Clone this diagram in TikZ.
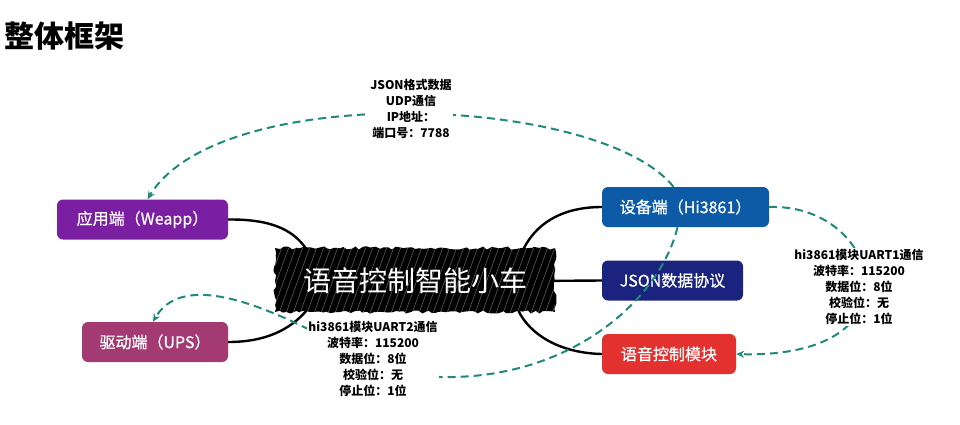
\documentclass[tikz,border=0pt]{standalone}
\usepackage{fontspec}
\setmainfont{Noto Sans CJK SC}
\newfontface\medface[FakeBold=0.7]{Noto Sans CJK SC}
\usetikzlibrary{arrows.meta,decorations.pathmorphing}
\definecolor{teal1}{HTML}{1F8A78}
\definecolor{cpurple}{HTML}{7B1FA2}
\definecolor{cups}{HTML}{A33A72}
\definecolor{cblue}{HTML}{0D5AA7}
\definecolor{cnavy}{HTML}{1A237E}
\definecolor{cred}{HTML}{E2312F}
\tikzset{
  box/.style={rounded corners=6pt, minimum height=40pt, inner sep=0pt, text=white, font=\medface\fontsize{16}{16}\selectfont},
  link/.style={line width=2.4pt, draw=black},
  dlink/.style={line width=2pt, draw=teal1, dash pattern=on 8pt off 5pt},
  tipa/.style={-{Stealth[length=8pt,width=7pt]}},
  note/.style={align=center, font=\bfseries\fontsize{12}{16}\selectfont, fill=white, inner sep=1pt},
}
\begin{document}
\begin{tikzpicture}[x=1pt,y=-1pt]
\fill[white] (0,0) rectangle (960,424);
\useasboundingbox (0,0) rectangle (960,424);

% boxes
\node[box, fill=cpurple, minimum width=171pt] (wea) at (142.5,219.5) {应用端（Weapp）};
\node[box, fill=cups, minimum width=146pt] (ups) at (155,342) {驱动端（UPS）};
\node[box, fill=cblue, minimum width=167pt] (hi) at (685.5,207) {设备端（Hi3861）};
\node[box, fill=cnavy, minimum width=141pt] (json) at (672.5,280.5) {JSON数据协议};
\node[box, fill=cred, minimum width=134pt] (red) at (669,354) {语音控制模块};

% anchor points on the central box
\coordinate (cA) at (307,250);
\coordinate (cB) at (523,250);
\coordinate (cC) at (307,310);
\coordinate (cD) at (518,310);

% solid connectors
\draw[link] (wea.east) .. controls (275,219) and (295,232) .. (cA);
\draw[link] (hi.west) .. controls (560,207) and (535,225) .. (cB);
\draw[link] (ups.east) .. controls (265,342) and (290,330) .. (cC);
\draw[link] (cD) .. controls (530,335) and (560,353) .. (red.west);
\draw[link] (530,281) -- (json.west);

% central scribbled box
\fill[black, decorate, decoration={random steps, segment length=4pt, amplitude=1.6pt}] (275,248) rectangle (555,312);
\begin{scope}
\clip (275,248) rectangle (555,312);
\foreach \x in {236,243,...,560} \draw[white, opacity=0.35, line width=0.6pt] (\x,316) -- ({\x+26},244);
\end{scope}
\node[minimum width=280pt, minimum height=64pt, inner sep=0pt, text=white, font=\fontsize{28}{28}\selectfont] (car) at (415,281) {语音控制智能小车};

% dashed connectors
\draw[dlink, tipa] ([xshift=-12pt]hi.north) .. controls (600,95) and (220,80) .. ([xshift=5pt]wea.north);
\draw[dlink, tipa] (hi.east) .. controls (830,205) and (870,250) .. (865,290) .. controls (860,340) and (800,356) .. (red.east);
\draw[dlink, tipa] ([xshift=-8pt]hi.south) .. controls (660,300) and (570,380) .. (440,377) .. controls (400,376) and (340,345) .. (310,330) .. controls (250,300) and (180,275) .. ([xshift=-2pt]ups.north);

% notes
\node[note] (n1) at (411,109) {JSON格式数据\\UDP通信\\IP地址：\\端口号：7788};
\node[note] (n2) at (859,287) {hi3861模块UART1通信\\波特率：115200\\数据位：8位\\校验位：无\\停止位：1位};
\node[note] (n3) at (373,359) {hi3861模块UART2通信\\波特率：115200\\数据位：8位\\校验位：无\\停止位：1位};

% title
\node[anchor=west, inner sep=0pt, font=\bfseries\fontsize{30}{30}\selectfont] (title) at (4,36) {整体框架};
\end{tikzpicture}
\end{document}
